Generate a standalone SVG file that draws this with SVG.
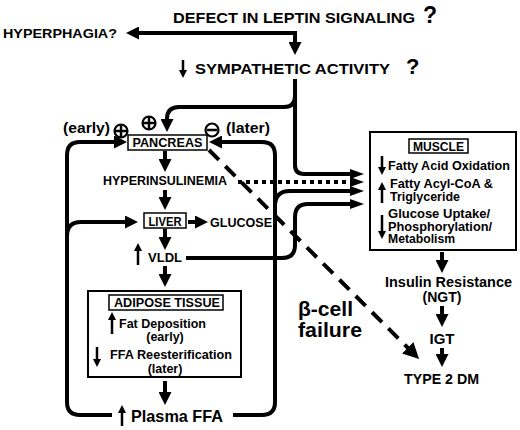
<svg xmlns="http://www.w3.org/2000/svg" width="520" height="430" viewBox="0 0 520 430">
<style>
.ln{fill:none;stroke:#000;stroke-width:4;stroke-linejoin:round}
.sm{fill:none;stroke:#000;stroke-width:2.5}
.bx{fill:#fff;stroke:#000;stroke-width:2}
.ib{fill:#fff;stroke:#000;stroke-width:1.5}
.sg{fill:#fff;stroke:#000;stroke-width:2.2}
text{font-family:"Liberation Sans",Arial,Helvetica,sans-serif;font-weight:bold;fill:#000}
.c{text-anchor:middle}
</style>
<defs>
<marker id="a" viewBox="0 0 13 13" refX="5" refY="6.5" markerWidth="13" markerHeight="13" markerUnits="userSpaceOnUse" orient="auto"><path d="M0,0 L13,6.5 L0,13 z" fill="#000"/></marker>
<marker id="m" viewBox="0 0 14 10" refX="6" refY="5" markerWidth="14" markerHeight="10" markerUnits="userSpaceOnUse" orient="auto"><path d="M0,0 L14,5 L0,10 z" fill="#000"/></marker>
<marker id="s" viewBox="0 0 8 8" refX="3" refY="4" markerWidth="8" markerHeight="8" markerUnits="userSpaceOnUse" orient="auto"><path d="M0,0 L8,4 L0,8 z" fill="#000"/></marker>
<marker id="d" viewBox="0 0 16 16" refX="6" refY="8" markerWidth="16" markerHeight="16" markerUnits="userSpaceOnUse" orient="auto"><path d="M0,0 L16,8 L0,16 z" fill="#000"/></marker>
</defs>
<rect width="520" height="430" fill="#fff"/>

<g id="connectors">
<path class="ln" d="M297,33 H134" marker-end="url(#a)"/>
<path class="ln" d="M295,31 V47" marker-end="url(#a)"/>
<path class="ln" d="M295,79 V165 Q295,174 304,174 H356" marker-end="url(#m)"/>
<path class="ln" d="M295,96 Q295,107 284,107 H179 Q167,107 167,119 V124" marker-end="url(#a)"/>
<path class="ln" d="M165,151 V164" marker-end="url(#a)"/>
<path class="ln" d="M165,190 V202" marker-end="url(#a)"/>
<path class="ln" d="M188,222 H200" marker-end="url(#a)"/>
<path class="ln" d="M165,229 V242" marker-end="url(#a)"/>
<path class="ln" d="M165,266 V279" marker-end="url(#a)"/>
<path class="ln" d="M165,381 V397" marker-end="url(#a)"/>
<path class="ln" d="M112,415 H80 Q67,415 67,402 V155 Q67,142 80,142 H119" marker-end="url(#a)"/>
<path class="ln" d="M67,236 Q67,222 81,222 H130" marker-end="url(#a)"/>
<path class="ln" d="M233,415 H262 Q275,415 275,402 V155 Q275,142 262,142 H217" marker-end="url(#a)"/>
<path class="ln" d="M275,206 Q275,191 290,191 H356" marker-end="url(#m)"/>
<path class="ln" d="M186,258 H282 Q295,258 295,245 V217 Q295,204 308,204 H356" marker-end="url(#m)"/>
<path class="ln" d="M238,182 H356" stroke-dasharray="4 4" marker-end="url(#m)"/>
<path class="ln" d="M209,150 L412,352" stroke-width="5" stroke-dasharray="14 9" marker-end="url(#d)"/>
<path class="ln" d="M442,252 V265" marker-end="url(#a)"/>
<path class="ln" d="M442,306 V319" marker-end="url(#a)"/>
<path class="ln" d="M442,348 V359" marker-end="url(#a)"/>
</g>

<g id="defect">
<text x="173" y="23" font-size="15.5" textLength="242" lengthAdjust="spacingAndGlyphs">DEFECT IN LEPTIN SIGNALING</text>
<text x="423" y="23" font-size="23">?</text>
</g>
<g id="hyperphagia">
<text x="3" y="38" font-size="13" textLength="114" lengthAdjust="spacingAndGlyphs">HYPERPHAGIA?</text>
</g>
<g id="sympathetic">
<path class="sm" d="M183,60 V73" marker-end="url(#s)"/>
<text x="195" y="74" font-size="15" textLength="195" lengthAdjust="spacingAndGlyphs">SYMPATHETIC ACTIVITY</text>
<text x="406" y="74" font-size="22">?</text>
</g>
<g id="signs">
<text x="63" y="133" font-size="14" textLength="47" lengthAdjust="spacingAndGlyphs">(early)</text>
<circle class="sg" cx="121" cy="131" r="6.5"/><path class="sm" stroke-width="2" d="M115,131 H127 M121,125 V137"/>
<circle class="sg" cx="149" cy="123" r="6.5"/><path class="sm" stroke-width="2" d="M143,123 H155 M149,117 V129"/>
<circle class="sg" cx="212" cy="130" r="6.5"/><path class="sm" stroke-width="2" d="M207,130 H217"/>
<text x="226" y="133" font-size="14" textLength="44" lengthAdjust="spacingAndGlyphs">(later)</text>
</g>
<g id="pancreas">
<rect class="ib" x="128" y="135" width="79" height="15"/>
<text class="c" x="167.5" y="147" font-size="12.5" textLength="70" lengthAdjust="spacingAndGlyphs">PANCREAS</text>
</g>
<g id="hyperinsulinemia">
<text x="103" y="185" font-size="12.5" textLength="124" lengthAdjust="spacingAndGlyphs">HYPERINSULINEMIA</text>
</g>
<g id="liver">
<rect class="ib" x="144" y="213" width="42" height="15"/>
<text class="c" x="165" y="226" font-size="12.5" textLength="33" lengthAdjust="spacingAndGlyphs">LIVER</text>
</g>
<g id="glucose">
<text x="210" y="227" font-size="12.5" textLength="62" lengthAdjust="spacingAndGlyphs">GLUCOSE</text>
</g>
<g id="vldl">
<path class="sm" d="M138,265 V248" marker-end="url(#s)"/>
<text x="148" y="262" font-size="12.5" textLength="34" lengthAdjust="spacingAndGlyphs">VLDL</text>
</g>
<g id="adipose">
<rect class="bx" x="88" y="291" width="153" height="86"/>
<rect class="ib" x="109" y="295" width="114" height="15"/>
<text x="114" y="307" font-size="13" textLength="106" lengthAdjust="spacingAndGlyphs">ADIPOSE TISSUE</text>
<path class="sm" d="M112,334 V317" marker-end="url(#s)"/>
<text x="119" y="328" font-size="12.5" textLength="87" lengthAdjust="spacingAndGlyphs">Fat Deposition</text>
<text class="c" x="165" y="341" font-size="12.5">(early)</text>
<path class="sm" d="M97,347 V362" marker-end="url(#s)"/>
<text x="110" y="359" font-size="12.5" textLength="122" lengthAdjust="spacingAndGlyphs">FFA Reesterification</text>
<text class="c" x="165" y="373" font-size="12.5">(later)</text>
</g>
<g id="plasmaffa">
<path class="sm" d="M122,426 V410" marker-end="url(#s)"/>
<text x="131" y="422" font-size="17" textLength="92" lengthAdjust="spacingAndGlyphs">Plasma FFA</text>
</g>
<g id="muscle">
<rect class="bx" x="370" y="132" width="146" height="118"/>
<rect class="ib" x="409" y="139" width="59" height="14"/>
<text class="c" x="438.5" y="151" font-size="13" textLength="51" lengthAdjust="spacingAndGlyphs">MUSCLE</text>
<path class="sm" d="M382,156 V170" marker-end="url(#s)"/>
<text x="388" y="170" font-size="12.5" textLength="122" lengthAdjust="spacingAndGlyphs">Fatty Acid Oxidation</text>
<path class="sm" d="M382,203 V187" marker-end="url(#s)"/>
<text x="390" y="188" font-size="12" textLength="103" lengthAdjust="spacingAndGlyphs">Fatty Acyl-CoA &amp;</text>
<text x="390" y="200.5" font-size="12" textLength="70" lengthAdjust="spacingAndGlyphs">Triglyceride</text>
<path class="sm" d="M382,215 V234" marker-end="url(#s)"/>
<text x="388" y="218" font-size="12" textLength="102" lengthAdjust="spacingAndGlyphs">Glucose Uptake/</text>
<text x="388" y="230.5" font-size="12" textLength="104" lengthAdjust="spacingAndGlyphs">Phosphorylation/</text>
<text x="388" y="243" font-size="12" textLength="67" lengthAdjust="spacingAndGlyphs">Metabolism</text>
</g>
<g id="insulinresistance">
<text x="385" y="287" font-size="14.5" textLength="127" lengthAdjust="spacingAndGlyphs">Insulin Resistance</text>
<text class="c" x="442" y="302" font-size="14">(NGT)</text>
</g>
<g id="igt">
<text class="c" x="442" y="344" font-size="15">IGT</text>
</g>
<g id="type2dm">
<text x="404" y="384" font-size="14" textLength="75" lengthAdjust="spacingAndGlyphs">TYPE 2 DM</text>
</g>
<g id="betacell">
<text x="298" y="316" font-size="21" textLength="55" lengthAdjust="spacingAndGlyphs">β-cell</text>
<text x="298" y="337" font-size="21" textLength="64" lengthAdjust="spacingAndGlyphs">failure</text>
</g>
</svg>
